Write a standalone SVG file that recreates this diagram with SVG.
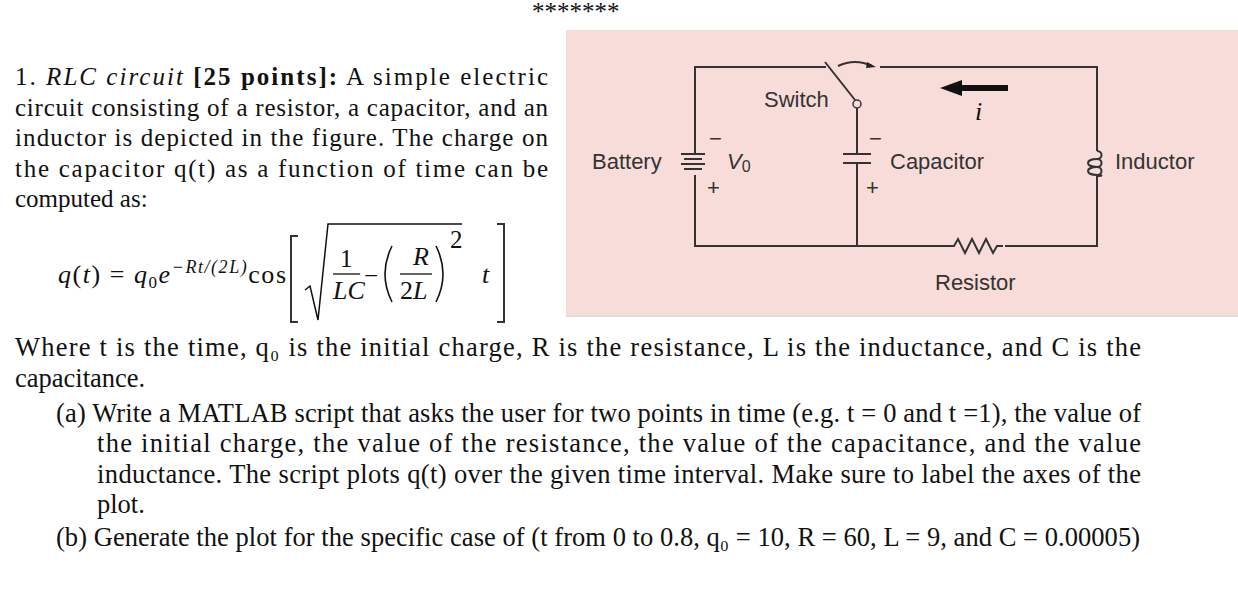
<svg xmlns="http://www.w3.org/2000/svg" width="1238" height="594" viewBox="0 0 1238 594">
<style>
.t{font-family:"Liberation Serif",serif;font-size:25px;fill:#111}
.b{font-family:"Liberation Serif",serif;font-size:26.5px;fill:#111}
.m{font-family:"Liberation Serif",serif;font-style:italic;font-size:26px;fill:#111}
.s{font-family:"Liberation Sans",sans-serif;font-size:22px;fill:#333}
.w{stroke:#333;stroke-width:2;fill:none}
</style>
<rect width="1238" height="594" fill="#fff"/>
<text class="t" x="532" y="20">*******</text>
<rect x="566" y="30" width="672" height="286" fill="#f8dcd9"/>
<line x1="566" y1="316" x2="1238" y2="316" stroke="#ddd" stroke-width="2"/>
<g id="text1">
<text class="t" x="15" y="85" textLength="533" lengthAdjust="spacing">1. <tspan font-style="italic">RLC circuit</tspan> <tspan font-weight="bold">[25 points]:</tspan> A simple electric</text>
<text class="t" x="15" y="116" textLength="533" lengthAdjust="spacing">circuit consisting of a resistor, a capacitor, and an</text>
<text class="t" x="15" y="146" textLength="533" lengthAdjust="spacing">inductor is depicted in the figure. The charge on</text>
<text class="t" x="15" y="177" textLength="533" lengthAdjust="spacing">the capacitor q(t) as a function of time can be</text>
<text class="t" x="15" y="207">computed as:</text>
</g>
<g id="formula">
<text class="m" x="58" y="283" textLength="228">q<tspan font-style="normal">(</tspan>t<tspan font-style="normal">) = </tspan>q<tspan font-style="normal" font-size="17" dy="5">0</tspan><tspan dy="-5">e</tspan><tspan font-size="18" dy="-10">−Rt/(2L)</tspan><tspan font-style="normal" dy="10">cos</tspan></text>
<path d="M298,236 h-7 v86 h7 M497,224 h7 v98 h-7" class="w" stroke="#111"/>
<path d="M305,290 l5,-4 l8,34 l10,-96 h134" stroke="#111" stroke-width="1.5" fill="none"/>
<text class="t" x="340" y="267">1</text>
<line x1="333" y1="274" x2="360" y2="274" stroke="#111" stroke-width="1.3"/>
<text class="m" x="333" y="299" font-size="24">LC</text>
<text class="t" x="364" y="284">−</text>
<path d="M392,246 Q378,274 392,302 M436,246 Q450,274 436,302" stroke="#111" stroke-width="1.6" fill="none"/>
<text class="m" x="413" y="265" font-size="24">R</text>
<line x1="400" y1="274" x2="432" y2="274" stroke="#111" stroke-width="1.3"/>
<text class="m" x="400" y="299" font-size="24"><tspan font-style="normal">2</tspan>L</text>
<text class="t" x="450" y="248" font-size="17">2</text>
<text class="m" x="482" y="283">t</text>
</g>
<g id="connectors">
<path class="w" d="M826,67 H695 V154 M695,175 V246 H948 M1005,246 H1097 V176 M1097,151 V67 H880 M857,108 V154 M857,163 V246"/>
<line class="w" x1="825" y1="62" x2="855" y2="100"/>
<path d="M838,66 Q855,58 872,66" class="w" stroke-width="1.5"/>
<path d="M867,62 L876,67 L866,68 Z" fill="#222"/>
<path d="M948,246 h6 l4,-7 l7,14 l7,-14 l7,14 l7,-14 l7,14 l4,-7 h6" class="w" stroke-width="1.8"/>
<path d="M1097,151 c6,0 6,8 0,8 c-12,0 -12,8 0,8 c6,0 6,-8 0,-8 M1097,159 c-12,0 -12,8 0,8 c6,0 6,8 0,8 c-12,0 -12,-8 0,-8 M1097,167 c-12,0 -12,8 0,8 c6,0 6,1 0,1" class="w" stroke-width="1.8"/>
<line x1="960" y1="88" x2="1008" y2="88" stroke="#111" stroke-width="6"/>
<path d="M940,88 L962,80 V96 Z" fill="#111"/>
</g>
<g id="battery">
<path class="w" d="M681,154 h24 M684,159 h18 M681,164 h24 M684,169 h18" stroke-width="1.6"/>
<text class="s" x="592" y="169">Battery</text>
<text class="s" x="709" y="146">−</text>
<text class="s" x="707" y="195">+</text>
<text class="s" x="727" y="169" font-family="Liberation Serif" font-style="italic">V<tspan font-style="normal" font-size="16" dy="3">0</tspan></text>
</g>
<g id="capacitor">
<path class="w" d="M843,154 h28 M843,163 h28"/>
<text class="s" x="869" y="146">−</text>
<text class="s" x="866" y="195">+</text>
<text class="s" x="890" y="169">Capacitor</text>
</g>
<g id="switch">
<circle cx="857" cy="104" r="4" fill="#f8dcd9" stroke="#333" stroke-width="1.5"/>
<text class="s" x="764" y="107">Switch</text>
</g>
<text class="m" x="975" y="120" font-size="19">i</text>
<g id="inductor"><text class="s" x="1115" y="169">Inductor</text></g>
<g id="resistor"><text class="s" x="935" y="290">Resistor</text></g>
<g id="text2">
<text class="b" x="15" y="356" textLength="1126" lengthAdjust="spacing">Where t is the time, q₀ is the initial charge, R is the resistance, L is the inductance, and C is the</text>
<text class="b" x="15" y="387">capacitance.</text>
<text class="b" x="56" y="422" textLength="1085" lengthAdjust="spacing">(a) Write a MATLAB script that asks the user for two points in time (e.g. t = 0 and t =1), the value of</text>
<text class="b" x="97" y="452" textLength="1044" lengthAdjust="spacing">the initial charge, the value of the resistance, the value of the capacitance, and the value</text>
<text class="b" x="97" y="483" textLength="1044" lengthAdjust="spacing">inductance. The script plots q(t) over the given time interval. Make sure to label the axes of the</text>
<text class="b" x="97" y="513">plot.</text>
<text class="b" x="56" y="546" textLength="1084" lengthAdjust="spacing">(b) Generate the plot for the specific case of (t from 0 to 0.8, q₀ = 10, R = 60, L = 9, and C = 0.00005)</text>
</g>
</svg>
